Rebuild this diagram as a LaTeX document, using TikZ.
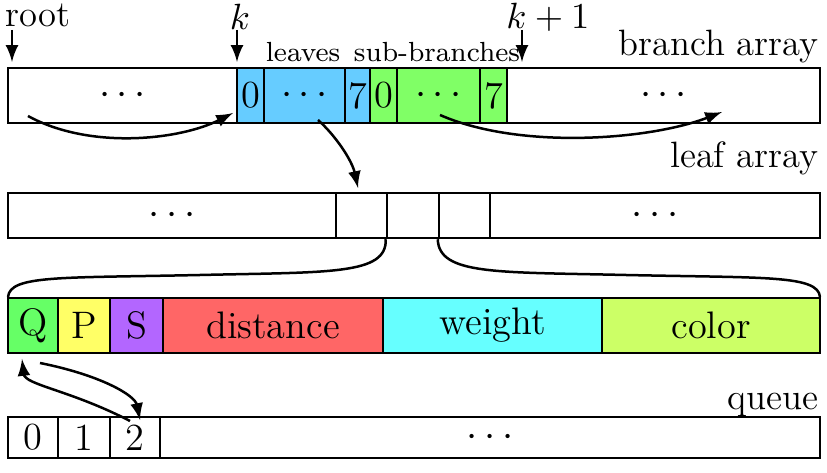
\documentclass[tikz,border=0pt]{standalone}
\begin{document}
\begin{tikzpicture}[x=0.3pt,y=-0.3pt,line width=0.75pt,
  lbl/.style={inner sep=0pt,font=\fontsize{11}{13}\selectfont},
  small/.style={inner sep=0pt,font=\fontsize{8.3}{10}\selectfont},
  arr/.style={-latex,line width=0.75pt}]
\useasboundingbox (0,0) rectangle (827,473);
\newcommand\mycell[7]{\node[draw,fill=#6,inner sep=0pt,minimum width={(#4-#2)*0.3pt},minimum height={(#5-#3)*0.3pt},font=\fontsize{11.5}{14}\selectfont] (#1) at ({(#2+#4)/2},{(#3+#5)/2}) {#7};}
\definecolor{cb}{HTML}{66CCFF}\definecolor{cg}{HTML}{80FF66}
\definecolor{cq}{HTML}{66FF66}\definecolor{cp}{HTML}{FFFF66}\definecolor{cs}{HTML}{B366FF}
\definecolor{cd}{HTML}{FF6666}\definecolor{cw}{HTML}{66FFFF}\definecolor{cc}{HTML}{CCFF66}
% branch array
\mycell{b1}{8}{68}{237}{123}{white}{$\cdots$}
\mycell{b2}{237}{68}{264}{123}{cb}{0}
\mycell{b3}{264}{68}{345}{123}{cb}{$\cdots$}
\mycell{b4}{345}{68}{370}{123}{cb}{7}
\mycell{b5}{370}{68}{397}{123}{cg}{0}
\mycell{b6}{397}{68}{480}{123}{cg}{$\cdots$}
\mycell{b7}{480}{68}{507}{123}{cg}{7}
\mycell{b8}{507}{68}{820}{123}{white}{$\cdots$}
\node[lbl,anchor=base east] (bl) at (820,56) {branch array};
\node[small] (lv) at (303,52) {leaves};
\node[small] (sb) at (437,52) {sub-branches};
\node[lbl,anchor=base west] (rt) at (4,27) {root};
\node[lbl] (kk) at (240,17) {$k$};
\node[lbl] (k1) at (548,17) {$k+1$};
\coordinate (ra) at (12,30); \coordinate (rb) at (12,62);
\coordinate (ka) at (237,30); \coordinate (kb) at (237,62);
\coordinate (la) at (522,30); \coordinate (lb) at (522,62);
\draw[arr] (ra) -- (rb);
\draw[arr] (ka) -- (kb);
\draw[arr] (la) -- (lb);
\coordinate (c1) at (28,116); \coordinate (c2) at (233,113);
\draw[arr] (c1) .. controls (90,150) and (180,140) .. (c2);
\coordinate (c3) at (440,115); \coordinate (c4) at (722,112);
\draw[arr] (c3) .. controls (520,150) and (650,140) .. (c4);
% leaf array
\mycell{l1}{8}{193}{336}{238}{white}{$\cdots$}
\mycell{l2}{336}{193}{387}{238}{white}{}
\mycell{l3}{387}{193}{439}{238}{white}{}
\mycell{l4}{439}{193}{490}{238}{white}{}
\mycell{l5}{490}{193}{820}{238}{white}{$\cdots$}
\node[lbl,anchor=base east] (ll) at (820,168) {leaf array};
\coordinate (c5) at (318,120); \coordinate (c6) at (358,188);
\draw[arr] (c5) .. controls (335,135) and (352,160) .. (c6);
% brace
\draw (l3.south west) .. controls (387,275) and (330,272) .. (200,275)
      .. controls (60,278) and (10,275) .. (8,297);
\draw (l4.south west) .. controls (439,275) and (496,272) .. (626,275)
      .. controls (766,278) and (818,275) .. (820,297);
% record
\mycell{q}{8}{298}{58}{353}{cq}{Q}
\mycell{p}{58}{298}{110}{353}{cp}{P}
\mycell{s}{110}{298}{163}{353}{cs}{S}
\mycell{d}{163}{298}{383}{353}{cd}{distance}
\mycell{w}{383}{298}{602}{353}{cw}{weight}
\mycell{c}{602}{298}{820}{353}{cc}{color}
% queue
\mycell{q0}{8}{417}{58}{458}{white}{0}
\mycell{q1}{58}{417}{110}{458}{white}{1}
\mycell{q2}{110}{417}{160}{458}{white}{2}
\mycell{q3}{160}{417}{820}{458}{white}{$\cdots$}
\node[lbl,anchor=base east] (ql) at (820,410) {queue};
\coordinate (d1) at (130,421); \coordinate (d2) at (22,359);
\draw[arr] (d1) .. controls (70,390) and (25,385) .. (d2);
\coordinate (d3) at (40,363); \coordinate (d4) at (140,420);
\draw[arr] (d3) .. controls (100,375) and (135,395) .. (d4);
\end{tikzpicture}
\end{document}
